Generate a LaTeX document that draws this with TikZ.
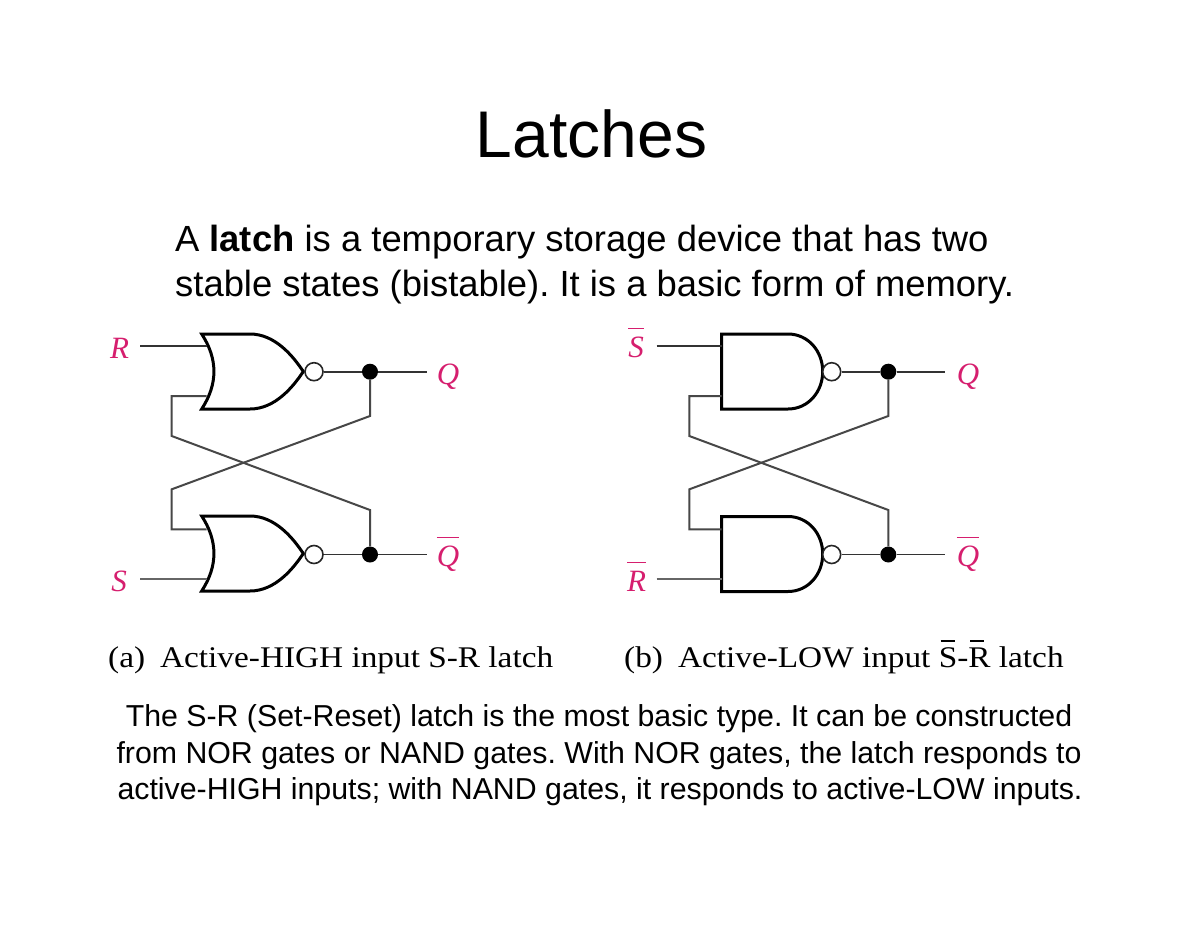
\documentclass[tikz,border=0pt]{standalone}
\usepackage{fontspec}
\setmainfont{Liberation Sans}
\newfontfamily\capfont[FakeStretch=1.11]{Liberation Serif}
\newfontfamily\lblfont{Liberation Serif}
\definecolor{lblpink}{RGB}{214,30,110}
\newcommand{\ovl}[1]{\ensuremath{\overline{\mbox{\rule{0pt}{0.9em}#1}}}}
\newcommand{\capbar}[1]{\leavevmode\rlap{\hspace{0.06em}\raisebox{0.85em}{\rule{0.47em}{1.3pt}}}#1}
\frenchspacing
\tikzset{
  gate/.style={draw=black,line width=3pt,line join=miter,fill=white},
  wire/.style={draw=black!72,line width=2pt,line join=miter},
  inwire/.style={draw=black!60,line width=2.3pt},
  thinwire/.style={draw=black!80,line width=1.7pt},
  bubble/.style={circle,draw=black!85,line width=1.6pt,fill=white,minimum size=18pt,inner sep=0pt},
  junction/.style={circle,fill=black,minimum size=16pt,inner sep=0pt},
  sig/.style={anchor=base,text=lblpink,inner sep=0pt,font=\lblfont\itshape\fontsize{31}{31}\selectfont},
  titletext/.style={anchor=base,inner sep=0pt,font=\fontsize{66}{66}\selectfont},
  bodytext/.style={anchor=base west,inner sep=0pt,font=\fontsize{36.4}{36.4}\selectfont},
  notetext/.style={anchor=base,inner sep=0pt,font=\fontsize{30.3}{30.3}\selectfont},
  captext/.style={anchor=base west,inner sep=0pt,font=\capfont\fontsize{30}{30}\selectfont},
}
\begin{document}
\begin{tikzpicture}[x=1pt,y=-1pt]
\useasboundingbox[fill=white] (0,0) rectangle (1200,927);
\node[titletext] (t) at (591.5,157) {Latches};
\node[bodytext] (p1) at (175,251) {A \textbf{latch} is a temporary storage device that has two};
\node[bodytext] (p2) at (175,296) {stable states (bistable). It is a basic form of memory.};
\node[notetext] (n1) at (599,726) {The S-R (Set-Reset) latch is the most basic type. It can be constructed};
\node[notetext] (n2) at (599,763) {from NOR gates or NAND gates. With NOR gates, the latch responds to};
\node[notetext] (n3) at (600,799) {active-HIGH inputs; with NAND gates, it responds to active-LOW inputs.};
\node[captext] (ca) at (108,667) {(a)\hspace{0.5em}Active-HIGH input S-R latch};
\node[captext] (cb) at (624,667) {(b)\hspace{0.5em}Active-LOW input \capbar{S}-\capbar{R} latch};

% ---------- NOR latch ----------
\foreach \yy in {334,516}{
  \path[gate] (201.7,\yy) -- (250,\yy)
     .. controls (275,\yy) and (293,{\yy+22}) .. (303.3,{\yy+37.5})
     .. controls (293,{\yy+53}) and (275,{\yy+75}) .. (250,{\yy+75})
     -- (201.7,{\yy+75})
     .. controls (218,{\yy+50}) and (218,{\yy+25}) .. cycle;
}
\coordinate (ai1) at (206.5,346);
\coordinate (ai2) at (206.5,396);
\coordinate (bi1) at (206.5,529.3);
\coordinate (bi2) at (206.5,579.3);
\node[bubble] (ba) at (314,371.7) {};
\node[bubble] (bb) at (314,554.5) {};
\node[junction] (ja) at (370,371.7) {};
\node[junction] (jb) at (370,554.5) {};
\coordinate (ia) at (140,346);
\coordinate (ib) at (140,579.3);
\coordinate (oa) at (427,371.7);
\coordinate (ob) at (427,554.5);
\coordinate (k1) at (171.7,396);
\coordinate (k2) at (171.7,436);
\coordinate (k3) at (370,510);
\coordinate (k4) at (370,416);
\coordinate (k5) at (171.7,489.3);
\coordinate (k6) at (171.7,529.3);
\draw[thinwire] (ia) -- (ai1);
\draw[inwire] (ib) -- (bi2);
\draw[thinwire] (ba) -- (ja);
\draw[thinwire] (ja) -- (oa);
\draw[thinwire] (bb) -- (jb);
\draw[thinwire] (jb) -- (ob);
\draw[wire] (ai2) -- (k1) -- (k2) -- (k3) -- (jb);
\draw[wire] (ja) -- (k4) -- (k5) -- (k6) -- (bi1);
\node[sig] (lr) at (119.5,358) {R};
\node[sig] (ls) at (119,591) {S};
\node[sig] (lq) at (448,384) {Q};
\node[sig] (lnq) at (448,566) {\ovl{Q}};

% ---------- NAND latch ----------
\foreach \yy in {334,516.5}{
  \path[gate] (721.7,\yy) -- (788,\yy)
     .. controls (808,\yy) and (822.7,{\yy+17}) .. (822.7,{\yy+37.5})
     .. controls (822.7,{\yy+58}) and (808,{\yy+75}) .. (788,{\yy+75})
     -- (721.7,{\yy+75}) -- cycle;
}
\coordinate (ci1) at (721.7,346);
\coordinate (ci2) at (721.7,396);
\coordinate (di1) at (721.7,529.3);
\coordinate (di2) at (721.7,579.3);
\node[bubble] (bc) at (831.7,371.7) {};
\node[bubble] (bd) at (831.7,554.5) {};
\node[junction] (jc) at (888.3,371.7) {};
\node[junction] (jd) at (888.3,554.5) {};
\coordinate (ic) at (656.7,346);
\coordinate (id) at (656.7,579.3);
\coordinate (oc) at (945,371.7);
\coordinate (od) at (945,554.5);
\coordinate (m1) at (689.3,396);
\coordinate (m2) at (689.3,436);
\coordinate (m3) at (888.3,510);
\coordinate (m4) at (888.3,416);
\coordinate (m5) at (689.3,489.3);
\coordinate (m6) at (689.3,529.3);
\draw[thinwire] (ic) -- (ci1);
\draw[inwire] (id) -- (di2);
\draw[thinwire] (bc) -- (jc);
\draw[thinwire] (jc) -- (oc);
\draw[thinwire] (bd) -- (jd);
\draw[thinwire] (jd) -- (od);
\draw[wire] (ci2) -- (m1) -- (m2) -- (m3) -- (jd);
\draw[wire] (jc) -- (m4) -- (m5) -- (m6) -- (di1);
\node[sig] (ln1) at (636,357) {\ovl{S}};
\node[sig] (ln2) at (636.5,591) {\ovl{R}};
\node[sig] (lq2) at (968,384) {Q};
\node[sig] (lnq2) at (968,566) {\ovl{Q}};
\end{tikzpicture}
\end{document}
